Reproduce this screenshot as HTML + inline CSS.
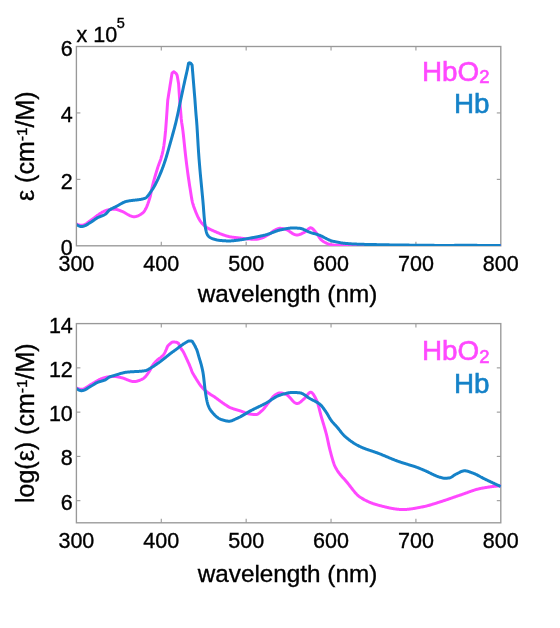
<!DOCTYPE html>
<html><head><meta charset="utf-8"><style>
html,body{margin:0;padding:0;background:#fff;width:560px;height:628px;overflow:hidden}
svg{display:block;will-change:transform}
text{font-family:"Liberation Sans",sans-serif;stroke-width:0.35px}
</style></head><body>
<svg width="560" height="628" viewBox="0 0 560 628">
<rect width="560" height="628" fill="#fff"/>
<rect x="76.4" y="46.5" width="424.40" height="199.30" fill="none" stroke="#999999" stroke-width="1.35"/>
<line x1="161.28" y1="245.80" x2="161.28" y2="241.80" stroke="#999999" stroke-width="1.1"/>
<line x1="161.28" y1="46.50" x2="161.28" y2="50.50" stroke="#999999" stroke-width="1.1"/>
<line x1="246.16" y1="245.80" x2="246.16" y2="241.80" stroke="#999999" stroke-width="1.1"/>
<line x1="246.16" y1="46.50" x2="246.16" y2="50.50" stroke="#999999" stroke-width="1.1"/>
<line x1="331.04" y1="245.80" x2="331.04" y2="241.80" stroke="#999999" stroke-width="1.1"/>
<line x1="331.04" y1="46.50" x2="331.04" y2="50.50" stroke="#999999" stroke-width="1.1"/>
<line x1="415.92" y1="245.80" x2="415.92" y2="241.80" stroke="#999999" stroke-width="1.1"/>
<line x1="415.92" y1="46.50" x2="415.92" y2="50.50" stroke="#999999" stroke-width="1.1"/>
<line x1="76.40" y1="179.37" x2="80.40" y2="179.37" stroke="#999999" stroke-width="1.1"/>
<line x1="500.80" y1="179.37" x2="496.80" y2="179.37" stroke="#999999" stroke-width="1.1"/>
<line x1="76.40" y1="112.93" x2="80.40" y2="112.93" stroke="#999999" stroke-width="1.1"/>
<line x1="500.80" y1="112.93" x2="496.80" y2="112.93" stroke="#999999" stroke-width="1.1"/>
<clipPath id="c1"><rect x="76.90" y="46.50" width="424.40" height="199.60"/></clipPath>
<g clip-path="url(#c1)">
<path d="M76.40,223.82 L76.82,224.05 L77.25,224.27 L77.67,224.46 L78.10,224.64 L78.52,224.79 L78.95,224.93 L79.37,225.04 L79.80,225.14 L80.22,225.21 L80.64,225.26 L81.07,225.30 L81.49,225.31 L81.92,225.29 L82.34,225.24 L82.77,225.17 L83.19,225.06 L83.61,224.93 L84.04,224.78 L84.46,224.60 L84.89,224.40 L85.31,224.18 L85.74,223.94 L86.16,223.68 L86.59,223.41 L87.01,223.13 L87.43,222.83 L87.86,222.52 L88.28,222.21 L88.71,221.88 L89.13,221.56 L89.56,221.23 L89.98,220.90 L90.41,220.58 L90.83,220.26 L91.25,219.95 L91.68,219.66 L92.10,219.37 L92.53,219.08 L92.95,218.78 L93.38,218.47 L93.80,218.15 L94.22,217.83 L94.65,217.51 L95.07,217.18 L95.50,216.85 L95.92,216.53 L96.35,216.21 L96.77,215.89 L97.20,215.59 L97.62,215.29 L98.04,214.99 L98.47,214.69 L98.89,214.38 L99.32,214.08 L99.74,213.78 L100.17,213.49 L100.59,213.21 L101.02,212.93 L101.44,212.67 L101.86,212.42 L102.29,212.18 L102.71,211.97 L103.14,211.76 L103.56,211.55 L103.99,211.35 L104.41,211.15 L104.83,210.96 L105.26,210.78 L105.68,210.60 L106.11,210.44 L106.53,210.29 L106.96,210.16 L107.38,210.05 L107.81,209.95 L108.23,209.88 L108.65,209.80 L109.08,209.73 L109.50,209.66 L109.93,209.59 L110.35,209.53 L110.78,209.47 L111.20,209.42 L111.63,209.37 L112.05,209.32 L112.47,209.28 L112.90,209.25 L113.32,209.23 L113.75,209.21 L114.17,209.20 L114.60,209.20 L115.02,209.22 L115.44,209.26 L115.87,209.33 L116.29,209.41 L116.72,209.51 L117.14,209.63 L117.57,209.75 L117.99,209.89 L118.42,210.04 L118.84,210.19 L119.26,210.35 L119.69,210.51 L120.11,210.67 L120.54,210.83 L120.96,210.99 L121.39,211.15 L121.81,211.30 L122.24,211.45 L122.66,211.62 L123.08,211.81 L123.51,212.02 L123.93,212.24 L124.36,212.47 L124.78,212.71 L125.21,212.95 L125.63,213.20 L126.05,213.46 L126.48,213.71 L126.90,213.97 L127.33,214.22 L127.75,214.47 L128.18,214.71 L128.60,214.95 L129.03,215.18 L129.45,215.40 L129.87,215.60 L130.30,215.79 L130.72,215.97 L131.15,216.14 L131.57,216.28 L132.00,216.41 L132.42,216.52 L132.85,216.60 L133.27,216.67 L133.69,216.70 L134.12,216.72 L134.54,216.71 L134.97,216.67 L135.39,216.61 L135.82,216.53 L136.24,216.43 L136.66,216.31 L137.09,216.17 L137.51,216.02 L137.94,215.84 L138.36,215.65 L138.79,215.44 L139.21,215.22 L139.64,214.99 L140.06,214.74 L140.48,214.48 L140.91,214.20 L141.33,213.92 L141.76,213.62 L142.18,213.32 L142.61,213.01 L143.03,212.66 L143.46,212.24 L143.88,211.74 L144.30,211.18 L144.73,210.55 L145.15,209.85 L145.58,209.08 L146.00,208.25 L146.43,207.35 L146.85,206.39 L147.27,205.36 L147.70,204.27 L148.12,203.11 L148.55,201.90 L148.97,200.63 L149.40,199.30 L149.82,197.92 L150.25,196.35 L150.67,194.39 L151.09,192.20 L151.52,190.00 L151.94,188.02 L152.37,186.34 L152.79,184.69 L153.22,183.08 L153.64,181.50 L154.07,179.95 L154.49,178.43 L154.91,176.94 L155.34,175.48 L155.76,174.04 L156.19,172.63 L156.61,171.23 L157.04,169.86 L157.46,168.49 L157.88,167.14 L158.31,165.87 L158.73,164.68 L159.16,163.55 L159.58,162.44 L160.01,161.31 L160.43,160.13 L160.86,158.86 L161.28,157.44 L161.70,155.92 L162.13,154.31 L162.55,152.56 L162.98,150.62 L163.40,148.44 L163.83,145.91 L164.25,142.89 L164.68,139.40 L165.10,135.46 L165.52,130.93 L165.61,130.21 L165.95,125.78 L166.37,120.24 L166.37,120.24 L166.80,114.01 L167.22,107.78 L167.65,101.56 L167.73,100.31 L168.07,98.17 L168.49,95.50 L168.92,92.83 L169.34,90.16 L169.77,87.49 L170.19,84.82 L170.62,82.15 L171.04,79.48 L171.47,76.81 L171.89,74.14 L172.06,73.07 L172.31,72.88 L172.74,72.57 L173.16,72.25 L173.59,71.93 L173.84,71.74 L174.01,71.87 L174.44,72.19 L174.86,72.51 L175.29,72.83 L175.71,73.15 L176.05,73.41 L176.13,73.56 L176.56,74.33 L176.98,75.09 L177.15,75.40 L177.41,76.86 L177.83,79.31 L178.26,81.75 L178.60,83.70 L178.68,84.98 L179.10,91.37 L179.53,97.76 L179.70,100.31 L179.95,103.30 L180.38,108.28 L180.80,113.27 L181.23,118.71 L181.65,122.25 L182.08,125.06 L182.50,127.75 L182.92,130.89 L183.35,134.55 L183.77,138.50 L184.20,142.60 L184.62,146.74 L185.05,150.78 L185.47,154.64 L185.90,158.27 L186.32,161.77 L186.74,165.15 L187.17,168.42 L187.59,171.59 L188.02,174.67 L188.44,177.67 L188.87,180.58 L189.29,183.41 L189.71,186.17 L190.14,188.86 L190.56,191.47 L190.99,194.14 L191.41,196.89 L191.84,199.38 L192.26,201.36 L192.69,203.05 L193.11,204.55 L193.53,205.90 L193.96,207.16 L194.38,208.34 L194.81,209.48 L195.23,210.59 L195.66,211.68 L196.08,212.73 L196.51,213.74 L196.93,214.72 L197.35,215.66 L197.78,216.56 L198.20,217.42 L198.63,218.24 L199.05,219.02 L199.48,219.76 L199.90,220.47 L200.32,221.13 L200.75,221.75 L201.17,222.33 L201.60,222.87 L202.02,223.38 L202.45,223.85 L202.87,224.29 L203.30,224.71 L203.72,225.10 L204.14,225.48 L204.57,225.83 L204.99,226.17 L205.42,226.49 L205.84,226.80 L206.27,227.10 L206.69,227.38 L207.12,227.66 L207.54,227.92 L207.96,228.17 L208.39,228.41 L208.81,228.65 L209.24,228.87 L209.66,229.08 L210.09,229.29 L210.51,229.50 L210.93,229.70 L211.36,229.89 L211.78,230.08 L212.21,230.27 L212.63,230.46 L213.06,230.64 L213.48,230.83 L213.91,231.01 L214.33,231.20 L214.75,231.38 L215.18,231.57 L215.60,231.76 L216.03,231.95 L216.45,232.13 L216.88,232.32 L217.30,232.51 L217.73,232.69 L218.15,232.88 L218.57,233.06 L219.00,233.24 L219.42,233.42 L219.85,233.59 L220.27,233.77 L220.70,233.94 L221.12,234.10 L221.54,234.27 L221.97,234.43 L222.39,234.58 L222.82,234.74 L223.24,234.89 L223.67,235.03 L224.09,235.17 L224.52,235.31 L224.94,235.44 L225.36,235.57 L225.79,235.70 L226.21,235.83 L226.64,235.95 L227.06,236.08 L227.49,236.20 L227.91,236.31 L228.34,236.42 L228.76,236.53 L229.18,236.62 L229.61,236.71 L230.03,236.79 L230.46,236.86 L230.88,236.93 L231.31,237.00 L231.73,237.07 L232.15,237.13 L232.58,237.19 L233.00,237.25 L233.43,237.30 L233.85,237.36 L234.28,237.41 L234.70,237.46 L235.13,237.51 L235.55,237.56 L235.97,237.60 L236.40,237.65 L236.82,237.70 L237.25,237.74 L237.67,237.79 L238.10,237.83 L238.52,237.88 L238.95,237.92 L239.37,237.97 L239.79,238.01 L240.22,238.06 L240.64,238.11 L241.07,238.16 L241.49,238.21 L241.92,238.26 L242.34,238.31 L242.76,238.37 L243.19,238.42 L243.61,238.47 L244.04,238.53 L244.46,238.58 L244.89,238.63 L245.31,238.68 L245.74,238.73 L246.16,238.78 L246.58,238.83 L247.01,238.87 L247.43,238.91 L247.86,238.95 L248.28,238.99 L248.71,239.02 L249.13,239.05 L249.56,239.07 L249.98,239.10 L250.40,239.11 L250.83,239.13 L251.25,239.14 L251.68,239.16 L252.10,239.17 L252.53,239.19 L252.95,239.20 L253.37,239.21 L253.80,239.22 L254.22,239.23 L254.65,239.24 L255.07,239.24 L255.50,239.24 L255.92,239.25 L256.35,239.24 L256.77,239.21 L257.19,239.17 L257.62,239.11 L258.04,239.03 L258.47,238.95 L258.89,238.85 L259.32,238.74 L259.74,238.63 L260.17,238.51 L260.59,238.38 L261.01,238.25 L261.44,238.11 L261.86,237.98 L262.29,237.85 L262.71,237.70 L263.14,237.55 L263.56,237.37 L263.98,237.18 L264.41,236.98 L264.83,236.77 L265.26,236.54 L265.68,236.30 L266.11,236.06 L266.53,235.80 L266.96,235.55 L267.38,235.28 L267.80,235.02 L268.23,234.76 L268.65,234.50 L269.08,234.23 L269.50,233.94 L269.93,233.64 L270.35,233.32 L270.78,233.00 L271.20,232.67 L271.62,232.33 L272.05,231.99 L272.47,231.66 L272.90,231.33 L273.32,231.02 L273.75,230.72 L274.17,230.45 L274.59,230.21 L275.02,230.00 L275.44,229.81 L275.87,229.61 L276.29,229.42 L276.72,229.23 L277.14,229.04 L277.57,228.87 L277.99,228.72 L278.41,228.59 L278.84,228.48 L279.26,228.40 L279.69,228.35 L280.11,228.34 L280.54,228.35 L280.96,228.38 L281.39,228.42 L281.81,228.48 L282.23,228.54 L282.66,228.62 L283.08,228.71 L283.51,228.80 L283.93,228.90 L284.36,229.01 L284.78,229.11 L285.20,229.22 L285.63,229.33 L286.05,229.45 L286.48,229.61 L286.90,229.80 L287.33,230.02 L287.75,230.26 L288.18,230.52 L288.60,230.80 L289.02,231.09 L289.45,231.39 L289.87,231.69 L290.30,231.99 L290.72,232.29 L291.15,232.59 L291.57,232.87 L292.00,233.15 L292.42,233.41 L292.84,233.66 L293.27,233.89 L293.69,234.11 L294.12,234.30 L294.54,234.47 L294.97,234.63 L295.39,234.75 L295.81,234.86 L296.24,234.93 L296.66,234.98 L297.09,234.99 L297.51,234.98 L297.94,234.94 L298.36,234.87 L298.79,234.78 L299.21,234.67 L299.63,234.54 L300.06,234.39 L300.48,234.22 L300.91,234.04 L301.33,233.84 L301.76,233.64 L302.18,233.43 L302.61,233.21 L303.03,232.99 L303.45,232.77 L303.88,232.55 L304.30,232.33 L304.73,232.10 L305.15,231.82 L305.58,231.50 L306.00,231.15 L306.42,230.77 L306.85,230.38 L307.27,229.97 L307.70,229.57 L308.12,229.18 L308.55,228.82 L308.97,228.49 L309.40,228.21 L309.82,227.99 L310.24,227.85 L310.67,227.80 L311.09,227.86 L311.52,228.00 L311.94,228.24 L312.37,228.54 L312.79,228.91 L313.22,229.33 L313.64,229.80 L314.06,230.28 L314.49,230.79 L314.91,231.31 L315.34,231.82 L315.76,232.33 L316.19,232.83 L316.61,233.32 L317.03,233.87 L317.46,234.50 L317.88,235.16 L318.31,235.84 L318.73,236.51 L319.16,237.17 L319.58,237.79 L320.01,238.37 L320.43,238.91 L320.85,239.40 L321.28,239.83 L321.70,240.21 L322.13,240.56 L322.55,240.89 L322.98,241.19 L323.40,241.47 L323.83,241.74 L324.25,241.99 L324.67,242.23 L325.10,242.46 L325.52,242.68 L325.95,242.89 L326.37,243.10 L326.80,243.30 L327.22,243.50 L327.64,243.69 L328.07,243.87 L328.49,244.03 L328.92,244.18 L329.34,244.32 L329.77,244.43 L330.19,244.53 L330.62,244.62 L331.04,244.70 L331.46,244.77 L331.89,244.84 L332.31,244.90 L332.74,244.96 L333.16,245.01 L333.59,245.06 L334.01,245.10 L334.44,245.13 L334.86,245.16 L335.28,245.19 L335.71,245.21 L336.13,245.23 L336.56,245.25 L336.98,245.26 L337.41,245.28 L337.83,245.30 L338.25,245.31 L338.68,245.32 L339.10,245.34 L339.53,245.35 L339.95,245.36 L340.38,245.37 L340.80,245.38 L341.23,245.39 L341.65,245.40 L342.07,245.40 L342.50,245.41 L342.92,245.42 L343.35,245.43 L343.77,245.44 L344.20,245.44 L344.62,245.45 L345.05,245.46 L345.47,245.47 L345.89,245.47 L346.32,245.48 L346.74,245.49 L347.17,245.50 L347.59,245.50 L348.02,245.51 L348.44,245.52 L348.86,245.52 L349.29,245.53 L349.71,245.54 L350.14,245.54 L350.56,245.55 L350.99,245.56 L351.41,245.56 L351.84,245.57 L352.26,245.57 L352.68,245.58 L353.11,245.58 L353.53,245.59 L353.96,245.59 L354.38,245.60 L354.81,245.60 L355.23,245.61 L355.66,245.61 L356.08,245.62 L356.50,245.62 L356.93,245.62 L357.35,245.63 L357.78,245.63 L358.20,245.63 L358.63,245.63 L359.05,245.64 L359.47,245.64 L359.90,245.64 L360.32,245.64 L360.75,245.65 L361.17,245.65 L361.60,245.65 L362.02,245.65 L362.45,245.65 L362.87,245.65 L363.29,245.66 L363.72,245.66 L364.14,245.66 L364.57,245.66 L364.99,245.66 L365.42,245.66 L365.84,245.66 L366.27,245.67 L366.69,245.67 L367.11,245.67 L367.54,245.67 L367.96,245.67 L368.39,245.67 L368.81,245.67 L369.24,245.67 L369.66,245.68 L370.08,245.68 L370.51,245.68 L370.93,245.68 L371.36,245.68 L371.78,245.68 L372.21,245.68 L372.63,245.68 L373.06,245.68 L373.48,245.68 L373.90,245.68 L374.33,245.68 L374.75,245.69 L375.18,245.69 L375.60,245.69 L376.03,245.69 L376.45,245.69 L376.88,245.69 L377.30,245.69 L377.72,245.69 L378.15,245.69 L378.57,245.69 L379.00,245.69 L379.42,245.69 L379.85,245.69 L380.27,245.69 L380.69,245.69 L381.12,245.69 L381.54,245.69 L381.97,245.70 L382.39,245.70 L382.82,245.70 L383.24,245.70 L383.67,245.70 L384.09,245.70 L384.51,245.70 L384.94,245.70 L385.36,245.70 L385.79,245.70 L386.21,245.70 L386.64,245.70 L387.06,245.70 L387.49,245.70 L387.91,245.70 L388.33,245.70 L388.76,245.70 L389.18,245.70 L389.61,245.70 L390.03,245.70 L390.46,245.70 L390.88,245.70 L391.30,245.71 L391.73,245.71 L392.15,245.71 L392.58,245.71 L393.00,245.71 L393.43,245.71 L393.85,245.71 L394.28,245.71 L394.70,245.71 L395.12,245.71 L395.55,245.71 L395.97,245.71 L396.40,245.71 L396.82,245.71 L397.25,245.71 L397.67,245.71 L398.10,245.71 L398.52,245.71 L398.94,245.71 L399.37,245.71 L399.79,245.71 L400.22,245.71 L400.64,245.71 L401.07,245.71 L401.49,245.71 L401.91,245.71 L402.34,245.71 L402.76,245.71 L403.19,245.71 L403.61,245.71 L404.04,245.71 L404.46,245.71 L404.89,245.71 L405.31,245.71 L405.73,245.71 L406.16,245.71 L406.58,245.71 L407.01,245.71 L407.43,245.71 L407.86,245.71 L408.28,245.71 L408.71,245.71 L409.13,245.71 L409.55,245.71 L409.98,245.71 L410.40,245.71 L410.83,245.71 L411.25,245.71 L411.68,245.71 L412.10,245.71 L412.52,245.71 L412.95,245.71 L413.37,245.71 L413.80,245.71 L414.22,245.71 L414.65,245.71 L415.07,245.70 L415.50,245.70 L415.92,245.70 L416.34,245.70 L416.77,245.70 L417.19,245.70 L417.62,245.70 L418.04,245.70 L418.47,245.70 L418.89,245.70 L419.32,245.70 L419.74,245.70 L420.16,245.70 L420.59,245.70 L421.01,245.70 L421.44,245.70 L421.86,245.70 L422.29,245.70 L422.71,245.70 L423.13,245.70 L423.56,245.70 L423.98,245.70 L424.41,245.70 L424.83,245.70 L425.26,245.70 L425.68,245.70 L426.11,245.70 L426.53,245.69 L426.95,245.69 L427.38,245.69 L427.80,245.69 L428.23,245.69 L428.65,245.69 L429.08,245.69 L429.50,245.69 L429.93,245.69 L430.35,245.69 L430.77,245.69 L431.20,245.69 L431.62,245.69 L432.05,245.69 L432.47,245.69 L432.90,245.69 L433.32,245.68 L433.74,245.68 L434.17,245.68 L434.59,245.68 L435.02,245.68 L435.44,245.68 L435.87,245.68 L436.29,245.68 L436.72,245.68 L437.14,245.68 L437.56,245.68 L437.99,245.68 L438.41,245.68 L438.84,245.68 L439.26,245.67 L439.69,245.67 L440.11,245.67 L440.54,245.67 L440.96,245.67 L441.38,245.67 L441.81,245.67 L442.23,245.67 L442.66,245.67 L443.08,245.67 L443.51,245.67 L443.93,245.67 L444.35,245.67 L444.78,245.66 L445.20,245.66 L445.63,245.66 L446.05,245.66 L446.48,245.66 L446.90,245.66 L447.33,245.66 L447.75,245.66 L448.17,245.66 L448.60,245.66 L449.02,245.66 L449.45,245.65 L449.87,245.65 L450.30,245.65 L450.72,245.65 L451.15,245.65 L451.57,245.65 L451.99,245.65 L452.42,245.65 L452.84,245.65 L453.27,245.65 L453.69,245.64 L454.12,245.64 L454.54,245.64 L454.96,245.64 L455.39,245.64 L455.81,245.64 L456.24,245.64 L456.66,245.64 L457.09,245.64 L457.51,245.63 L457.94,245.63 L458.36,245.63 L458.78,245.63 L459.21,245.63 L459.63,245.63 L460.06,245.63 L460.48,245.63 L460.91,245.63 L461.33,245.62 L461.76,245.62 L462.18,245.62 L462.60,245.62 L463.03,245.62 L463.45,245.62 L463.88,245.62 L464.30,245.62 L464.73,245.61 L465.15,245.61 L465.57,245.61 L466.00,245.61 L466.42,245.61 L466.85,245.61 L467.27,245.61 L467.70,245.61 L468.12,245.60 L468.55,245.60 L468.97,245.60 L469.39,245.60 L469.82,245.60 L470.24,245.60 L470.67,245.60 L471.09,245.59 L471.52,245.59 L471.94,245.59 L472.37,245.59 L472.79,245.59 L473.21,245.59 L473.64,245.59 L474.06,245.58 L474.49,245.58 L474.91,245.58 L475.34,245.58 L475.76,245.58 L476.18,245.58 L476.61,245.58 L477.03,245.58 L477.46,245.57 L477.88,245.57 L478.31,245.57 L478.73,245.57 L479.16,245.57 L479.58,245.57 L480.00,245.57 L480.43,245.57 L480.85,245.57 L481.28,245.57 L481.70,245.57 L482.13,245.56 L482.55,245.56 L482.98,245.56 L483.40,245.56 L483.82,245.56 L484.25,245.56 L484.67,245.56 L485.10,245.56 L485.52,245.56 L485.95,245.56 L486.37,245.56 L486.79,245.56 L487.22,245.55 L487.64,245.55 L488.07,245.55 L488.49,245.55 L488.92,245.55 L489.34,245.55 L489.77,245.55 L490.19,245.55 L490.61,245.55 L491.04,245.55 L491.46,245.55 L491.89,245.55 L492.31,245.55 L492.74,245.55 L493.16,245.55 L493.59,245.54 L494.01,245.54 L494.43,245.54 L494.86,245.54 L495.28,245.54 L495.71,245.54 L496.13,245.54 L496.56,245.54 L496.98,245.54 L497.40,245.54 L497.83,245.54 L498.25,245.54 L498.68,245.54 L499.10,245.54 L499.53,245.54 L499.95,245.54 L500.38,245.54 L500.80,245.54" fill="none" stroke="#ff48ff" stroke-width="3.0" stroke-linejoin="round" stroke-linecap="butt"/>
<path d="M76.40,224.47 L76.82,224.76 L77.25,225.04 L77.67,225.30 L78.10,225.53 L78.52,225.75 L78.95,225.94 L79.37,226.10 L79.80,226.24 L80.22,226.35 L80.64,226.43 L81.07,226.48 L81.49,226.50 L81.92,226.49 L82.34,226.45 L82.77,226.38 L83.19,226.29 L83.61,226.18 L84.04,226.05 L84.46,225.90 L84.89,225.73 L85.31,225.54 L85.74,225.34 L86.16,225.12 L86.59,224.89 L87.01,224.65 L87.43,224.39 L87.86,224.13 L88.28,223.86 L88.71,223.59 L89.13,223.31 L89.56,223.03 L89.98,222.75 L90.41,222.47 L90.83,222.19 L91.25,221.92 L91.68,221.66 L92.10,221.41 L92.53,221.14 L92.95,220.86 L93.38,220.56 L93.80,220.26 L94.22,219.95 L94.65,219.63 L95.07,219.32 L95.50,219.01 L95.92,218.71 L96.35,218.42 L96.77,218.15 L97.20,217.90 L97.62,217.68 L98.04,217.47 L98.47,217.27 L98.89,217.08 L99.32,216.91 L99.74,216.74 L100.17,216.58 L100.59,216.42 L101.02,216.26 L101.44,216.10 L101.86,215.94 L102.29,215.78 L102.71,215.61 L103.14,215.43 L103.56,215.23 L103.99,215.03 L104.41,214.80 L104.83,214.56 L105.26,214.30 L105.68,213.98 L106.11,213.60 L106.53,213.17 L106.96,212.70 L107.38,212.21 L107.81,211.71 L108.23,211.22 L108.65,210.75 L109.08,210.34 L109.50,209.98 L109.93,209.69 L110.35,209.42 L110.78,209.16 L111.20,208.92 L111.63,208.69 L112.05,208.47 L112.47,208.26 L112.90,208.06 L113.32,207.86 L113.75,207.66 L114.17,207.47 L114.60,207.27 L115.02,207.06 L115.44,206.85 L115.87,206.63 L116.29,206.40 L116.72,206.17 L117.14,205.93 L117.57,205.68 L117.99,205.44 L118.42,205.19 L118.84,204.94 L119.26,204.70 L119.69,204.46 L120.11,204.22 L120.54,203.98 L120.96,203.75 L121.39,203.53 L121.81,203.32 L122.24,203.11 L122.66,202.90 L123.08,202.68 L123.51,202.48 L123.93,202.28 L124.36,202.09 L124.78,201.91 L125.21,201.75 L125.63,201.61 L126.05,201.49 L126.48,201.39 L126.90,201.29 L127.33,201.19 L127.75,201.10 L128.18,201.02 L128.60,200.94 L129.03,200.86 L129.45,200.79 L129.87,200.73 L130.30,200.67 L130.72,200.61 L131.15,200.55 L131.57,200.50 L132.00,200.45 L132.42,200.40 L132.85,200.35 L133.27,200.31 L133.69,200.26 L134.12,200.22 L134.54,200.18 L134.97,200.13 L135.39,200.09 L135.82,200.05 L136.24,200.00 L136.66,199.96 L137.09,199.91 L137.51,199.86 L137.94,199.81 L138.36,199.75 L138.79,199.70 L139.21,199.64 L139.64,199.57 L140.06,199.50 L140.48,199.43 L140.91,199.35 L141.33,199.27 L141.76,199.18 L142.18,199.09 L142.61,198.99 L143.03,198.88 L143.46,198.77 L143.88,198.65 L144.30,198.52 L144.73,198.39 L145.15,198.23 L145.58,198.01 L146.00,197.73 L146.43,197.39 L146.85,196.99 L147.27,196.55 L147.70,196.07 L148.12,195.55 L148.55,194.99 L148.97,194.41 L149.40,193.82 L149.82,193.20 L150.25,192.58 L150.67,191.96 L151.09,191.35 L151.52,190.75 L151.94,190.14 L152.37,189.50 L152.79,188.84 L153.22,188.16 L153.64,187.46 L154.07,186.74 L154.49,186.00 L154.91,185.23 L155.34,184.44 L155.76,183.64 L156.19,182.81 L156.61,181.96 L157.04,181.09 L157.46,180.20 L157.88,179.30 L158.31,178.37 L158.73,177.42 L159.16,176.45 L159.58,175.47 L160.01,174.46 L160.43,173.44 L160.86,172.40 L161.28,171.34 L161.70,170.27 L162.13,169.18 L162.55,168.08 L162.98,166.96 L163.40,165.80 L163.83,164.61 L164.25,163.37 L164.68,162.10 L165.10,160.80 L165.52,159.47 L165.95,158.10 L166.37,156.71 L166.80,155.29 L167.22,153.84 L167.65,152.38 L168.07,150.90 L168.49,149.40 L168.92,147.90 L169.34,146.38 L169.77,144.87 L170.19,143.35 L170.62,141.83 L171.04,140.32 L171.47,138.82 L171.89,137.31 L172.31,135.79 L172.74,134.27 L173.16,132.74 L173.59,131.19 L174.01,129.62 L174.44,128.03 L174.86,126.40 L175.29,124.75 L175.71,123.05 L176.13,121.31 L176.56,119.52 L176.98,117.66 L177.41,115.74 L177.83,113.77 L178.26,111.76 L178.68,109.72 L179.10,107.66 L179.53,105.60 L179.95,103.55 L180.38,101.51 L180.80,99.51 L181.23,97.52 L181.65,95.51 L182.08,93.51 L182.50,91.51 L182.92,89.51 L183.35,87.52 L183.77,85.53 L184.20,83.62 L184.62,81.64 L184.96,80.05 L185.05,79.68 L185.47,77.82 L185.90,75.96 L186.32,74.10 L186.74,72.24 L187.08,70.75 L187.17,70.32 L187.59,68.17 L188.02,66.02 L188.44,63.87 L188.53,63.44 L188.87,63.11 L189.21,62.78 L189.29,62.80 L189.71,62.89 L190.14,62.99 L190.56,63.09 L190.65,63.11 L190.99,63.58 L191.41,64.16 L191.84,64.75 L192.09,65.10 L192.26,67.17 L192.69,72.34 L192.86,74.40 L193.11,77.51 L193.53,82.69 L193.96,87.87 L194.38,93.06 L194.81,98.24 L194.98,100.31 L195.23,103.85 L195.66,109.76 L195.74,110.94 L196.08,115.03 L196.51,119.90 L196.93,125.43 L197.35,132.11 L197.78,139.34 L198.20,146.48 L198.63,153.05 L199.05,158.89 L199.48,164.19 L199.90,169.12 L200.32,173.79 L200.75,178.31 L201.17,182.75 L201.60,187.18 L202.02,191.63 L202.45,196.11 L202.87,200.63 L203.30,205.71 L203.72,211.29 L204.14,216.63 L204.57,221.28 L204.99,225.05 L205.42,227.91 L205.84,229.93 L206.27,231.58 L206.69,232.98 L207.12,234.11 L207.54,234.99 L207.96,235.61 L208.39,236.10 L208.81,236.53 L209.24,236.91 L209.66,237.23 L210.09,237.52 L210.51,237.77 L210.93,238.00 L211.36,238.20 L211.78,238.38 L212.21,238.55 L212.63,238.71 L213.06,238.86 L213.48,239.00 L213.91,239.14 L214.33,239.27 L214.75,239.40 L215.18,239.52 L215.60,239.63 L216.03,239.74 L216.45,239.84 L216.88,239.93 L217.30,240.02 L217.73,240.10 L218.15,240.17 L218.57,240.24 L219.00,240.31 L219.42,240.37 L219.85,240.42 L220.27,240.47 L220.70,240.51 L221.12,240.55 L221.54,240.58 L221.97,240.61 L222.39,240.65 L222.82,240.68 L223.24,240.71 L223.67,240.74 L224.09,240.77 L224.52,240.79 L224.94,240.82 L225.36,240.84 L225.79,240.86 L226.21,240.88 L226.64,240.90 L227.06,240.91 L227.49,240.92 L227.91,240.93 L228.34,240.94 L228.76,240.94 L229.18,240.94 L229.61,240.94 L230.03,240.93 L230.46,240.91 L230.88,240.89 L231.31,240.87 L231.73,240.84 L232.15,240.80 L232.58,240.77 L233.00,240.73 L233.43,240.68 L233.85,240.64 L234.28,240.59 L234.70,240.54 L235.13,240.49 L235.55,240.44 L235.97,240.39 L236.40,240.35 L236.82,240.30 L237.25,240.25 L237.67,240.20 L238.10,240.16 L238.52,240.10 L238.95,240.05 L239.37,239.99 L239.79,239.94 L240.22,239.88 L240.64,239.82 L241.07,239.75 L241.49,239.69 L241.92,239.62 L242.34,239.55 L242.76,239.49 L243.19,239.41 L243.61,239.34 L244.04,239.27 L244.46,239.19 L244.89,239.12 L245.31,239.04 L245.74,238.96 L246.16,238.88 L246.58,238.80 L247.01,238.72 L247.43,238.64 L247.86,238.56 L248.28,238.48 L248.71,238.40 L249.13,238.31 L249.56,238.23 L249.98,238.15 L250.40,238.07 L250.83,237.99 L251.25,237.91 L251.68,237.83 L252.10,237.75 L252.53,237.67 L252.95,237.59 L253.37,237.51 L253.80,237.43 L254.22,237.35 L254.65,237.27 L255.07,237.19 L255.50,237.10 L255.92,237.02 L256.35,236.94 L256.77,236.86 L257.19,236.77 L257.62,236.69 L258.04,236.61 L258.47,236.52 L258.89,236.44 L259.32,236.35 L259.74,236.26 L260.17,236.17 L260.59,236.08 L261.01,235.99 L261.44,235.90 L261.86,235.80 L262.29,235.71 L262.71,235.61 L263.14,235.51 L263.56,235.41 L263.98,235.31 L264.41,235.21 L264.83,235.10 L265.26,235.00 L265.68,234.89 L266.11,234.77 L266.53,234.65 L266.96,234.53 L267.38,234.40 L267.80,234.27 L268.23,234.13 L268.65,233.99 L269.08,233.84 L269.50,233.69 L269.93,233.54 L270.35,233.38 L270.78,233.22 L271.20,233.06 L271.62,232.90 L272.05,232.73 L272.47,232.57 L272.90,232.40 L273.32,232.24 L273.75,232.07 L274.17,231.90 L274.59,231.74 L275.02,231.58 L275.44,231.42 L275.87,231.26 L276.29,231.11 L276.72,230.96 L277.14,230.81 L277.57,230.67 L277.99,230.54 L278.41,230.41 L278.84,230.29 L279.26,230.18 L279.69,230.07 L280.11,229.98 L280.54,229.89 L280.96,229.80 L281.39,229.70 L281.81,229.61 L282.23,229.52 L282.66,229.43 L283.08,229.33 L283.51,229.24 L283.93,229.15 L284.36,229.06 L284.78,228.98 L285.20,228.89 L285.63,228.81 L286.05,228.73 L286.48,228.65 L286.90,228.57 L287.33,228.50 L287.75,228.43 L288.18,228.37 L288.60,228.31 L289.02,228.25 L289.45,228.20 L289.87,228.15 L290.30,228.11 L290.72,228.07 L291.15,228.04 L291.57,228.02 L292.00,228.00 L292.42,227.99 L292.84,227.98 L293.27,227.98 L293.69,227.99 L294.12,228.00 L294.54,228.01 L294.97,228.02 L295.39,228.03 L295.81,228.05 L296.24,228.07 L296.66,228.10 L297.09,228.12 L297.51,228.15 L297.94,228.18 L298.36,228.21 L298.79,228.24 L299.21,228.27 L299.63,228.31 L300.06,228.34 L300.48,228.40 L300.91,228.48 L301.33,228.58 L301.76,228.70 L302.18,228.84 L302.61,228.99 L303.03,229.16 L303.45,229.34 L303.88,229.53 L304.30,229.73 L304.73,229.93 L305.15,230.14 L305.58,230.35 L306.00,230.56 L306.42,230.77 L306.85,230.98 L307.27,231.19 L307.70,231.39 L308.12,231.58 L308.55,231.77 L308.97,231.95 L309.40,232.12 L309.82,232.27 L310.24,232.42 L310.67,232.56 L311.09,232.70 L311.52,232.83 L311.94,232.96 L312.37,233.08 L312.79,233.20 L313.22,233.32 L313.64,233.44 L314.06,233.56 L314.49,233.67 L314.91,233.79 L315.34,233.91 L315.76,234.03 L316.19,234.15 L316.61,234.28 L317.03,234.41 L317.46,234.54 L317.88,234.67 L318.31,234.81 L318.73,234.96 L319.16,235.10 L319.58,235.26 L320.01,235.42 L320.43,235.59 L320.85,235.77 L321.28,235.97 L321.70,236.18 L322.13,236.40 L322.55,236.62 L322.98,236.85 L323.40,237.08 L323.83,237.31 L324.25,237.53 L324.67,237.75 L325.10,237.97 L325.52,238.18 L325.95,238.38 L326.37,238.60 L326.80,238.81 L327.22,239.03 L327.64,239.24 L328.07,239.46 L328.49,239.66 L328.92,239.86 L329.34,240.06 L329.77,240.24 L330.19,240.41 L330.62,240.57 L331.04,240.71 L331.46,240.85 L331.89,240.97 L332.31,241.08 L332.74,241.19 L333.16,241.29 L333.59,241.38 L334.01,241.48 L334.44,241.56 L334.86,241.65 L335.28,241.73 L335.71,241.82 L336.13,241.90 L336.56,241.98 L336.98,242.06 L337.41,242.14 L337.83,242.23 L338.25,242.31 L338.68,242.39 L339.10,242.48 L339.53,242.56 L339.95,242.64 L340.38,242.71 L340.80,242.79 L341.23,242.86 L341.65,242.93 L342.07,243.00 L342.50,243.06 L342.92,243.12 L343.35,243.17 L343.77,243.23 L344.20,243.27 L344.62,243.32 L345.05,243.36 L345.47,243.40 L345.89,243.44 L346.32,243.48 L346.74,243.52 L347.17,243.55 L347.59,243.59 L348.02,243.62 L348.44,243.65 L348.86,243.69 L349.29,243.72 L349.71,243.75 L350.14,243.78 L350.56,243.80 L350.99,243.83 L351.41,243.86 L351.84,243.88 L352.26,243.91 L352.68,243.93 L353.11,243.96 L353.53,243.98 L353.96,244.00 L354.38,244.02 L354.81,244.05 L355.23,244.07 L355.66,244.09 L356.08,244.10 L356.50,244.12 L356.93,244.14 L357.35,244.16 L357.78,244.18 L358.20,244.19 L358.63,244.21 L359.05,244.22 L359.47,244.24 L359.90,244.25 L360.32,244.27 L360.75,244.28 L361.17,244.29 L361.60,244.31 L362.02,244.32 L362.45,244.33 L362.87,244.34 L363.29,244.35 L363.72,244.36 L364.14,244.37 L364.57,244.39 L364.99,244.40 L365.42,244.41 L365.84,244.42 L366.27,244.43 L366.69,244.43 L367.11,244.44 L367.54,244.45 L367.96,244.46 L368.39,244.47 L368.81,244.48 L369.24,244.49 L369.66,244.50 L370.08,244.50 L370.51,244.51 L370.93,244.52 L371.36,244.53 L371.78,244.54 L372.21,244.55 L372.63,244.55 L373.06,244.56 L373.48,244.57 L373.90,244.58 L374.33,244.59 L374.75,244.59 L375.18,244.60 L375.60,244.61 L376.03,244.62 L376.45,244.62 L376.88,244.63 L377.30,244.64 L377.72,244.65 L378.15,244.66 L378.57,244.67 L379.00,244.67 L379.42,244.68 L379.85,244.69 L380.27,244.70 L380.69,244.71 L381.12,244.72 L381.54,244.72 L381.97,244.73 L382.39,244.74 L382.82,244.75 L383.24,244.76 L383.67,244.77 L384.09,244.77 L384.51,244.78 L384.94,244.79 L385.36,244.80 L385.79,244.81 L386.21,244.81 L386.64,244.82 L387.06,244.83 L387.49,244.84 L387.91,244.85 L388.33,244.85 L388.76,244.86 L389.18,244.87 L389.61,244.88 L390.03,244.88 L390.46,244.89 L390.88,244.90 L391.30,244.91 L391.73,244.91 L392.15,244.92 L392.58,244.93 L393.00,244.93 L393.43,244.94 L393.85,244.95 L394.28,244.95 L394.70,244.96 L395.12,244.97 L395.55,244.97 L395.97,244.98 L396.40,244.98 L396.82,244.99 L397.25,245.00 L397.67,245.00 L398.10,245.01 L398.52,245.01 L398.94,245.02 L399.37,245.02 L399.79,245.03 L400.22,245.03 L400.64,245.04 L401.07,245.04 L401.49,245.05 L401.91,245.05 L402.34,245.06 L402.76,245.06 L403.19,245.07 L403.61,245.07 L404.04,245.07 L404.46,245.08 L404.89,245.08 L405.31,245.09 L405.73,245.09 L406.16,245.10 L406.58,245.10 L407.01,245.10 L407.43,245.11 L407.86,245.11 L408.28,245.12 L408.71,245.12 L409.13,245.12 L409.55,245.13 L409.98,245.13 L410.40,245.13 L410.83,245.14 L411.25,245.14 L411.68,245.15 L412.10,245.15 L412.52,245.15 L412.95,245.16 L413.37,245.16 L413.80,245.17 L414.22,245.17 L414.65,245.17 L415.07,245.18 L415.50,245.18 L415.92,245.19 L416.34,245.19 L416.77,245.19 L417.19,245.20 L417.62,245.20 L418.04,245.21 L418.47,245.21 L418.89,245.22 L419.32,245.22 L419.74,245.22 L420.16,245.23 L420.59,245.23 L421.01,245.24 L421.44,245.24 L421.86,245.25 L422.29,245.25 L422.71,245.26 L423.13,245.26 L423.56,245.26 L423.98,245.27 L424.41,245.27 L424.83,245.28 L425.26,245.28 L425.68,245.29 L426.11,245.29 L426.53,245.30 L426.95,245.30 L427.38,245.30 L427.80,245.31 L428.23,245.31 L428.65,245.32 L429.08,245.32 L429.50,245.33 L429.93,245.33 L430.35,245.34 L430.77,245.34 L431.20,245.35 L431.62,245.35 L432.05,245.35 L432.47,245.36 L432.90,245.36 L433.32,245.37 L433.74,245.37 L434.17,245.37 L434.59,245.38 L435.02,245.38 L435.44,245.38 L435.87,245.39 L436.29,245.39 L436.72,245.39 L437.14,245.40 L437.56,245.40 L437.99,245.40 L438.41,245.41 L438.84,245.41 L439.26,245.41 L439.69,245.41 L440.11,245.42 L440.54,245.42 L440.96,245.42 L441.38,245.42 L441.81,245.42 L442.23,245.42 L442.66,245.43 L443.08,245.43 L443.51,245.43 L443.93,245.43 L444.35,245.43 L444.78,245.43 L445.20,245.43 L445.63,245.43 L446.05,245.43 L446.48,245.43 L446.90,245.43 L447.33,245.43 L447.75,245.43 L448.17,245.43 L448.60,245.43 L449.02,245.43 L449.45,245.43 L449.87,245.42 L450.30,245.42 L450.72,245.42 L451.15,245.41 L451.57,245.41 L451.99,245.40 L452.42,245.40 L452.84,245.39 L453.27,245.39 L453.69,245.38 L454.12,245.38 L454.54,245.37 L454.96,245.37 L455.39,245.36 L455.81,245.36 L456.24,245.35 L456.66,245.35 L457.09,245.35 L457.51,245.34 L457.94,245.34 L458.36,245.33 L458.78,245.33 L459.21,245.32 L459.63,245.32 L460.06,245.31 L460.48,245.31 L460.91,245.30 L461.33,245.30 L461.76,245.30 L462.18,245.29 L462.60,245.29 L463.03,245.29 L463.45,245.29 L463.88,245.28 L464.30,245.28 L464.73,245.28 L465.15,245.28 L465.57,245.28 L466.00,245.29 L466.42,245.29 L466.85,245.29 L467.27,245.29 L467.70,245.29 L468.12,245.30 L468.55,245.30 L468.97,245.30 L469.39,245.31 L469.82,245.31 L470.24,245.31 L470.67,245.32 L471.09,245.32 L471.52,245.32 L471.94,245.33 L472.37,245.33 L472.79,245.33 L473.21,245.34 L473.64,245.34 L474.06,245.34 L474.49,245.35 L474.91,245.35 L475.34,245.36 L475.76,245.36 L476.18,245.36 L476.61,245.37 L477.03,245.37 L477.46,245.38 L477.88,245.38 L478.31,245.38 L478.73,245.39 L479.16,245.39 L479.58,245.40 L480.00,245.40 L480.43,245.41 L480.85,245.41 L481.28,245.41 L481.70,245.42 L482.13,245.42 L482.55,245.43 L482.98,245.43 L483.40,245.43 L483.82,245.44 L484.25,245.44 L484.67,245.44 L485.10,245.45 L485.52,245.45 L485.95,245.45 L486.37,245.46 L486.79,245.46 L487.22,245.46 L487.64,245.47 L488.07,245.47 L488.49,245.47 L488.92,245.47 L489.34,245.48 L489.77,245.48 L490.19,245.48 L490.61,245.49 L491.04,245.49 L491.46,245.49 L491.89,245.49 L492.31,245.50 L492.74,245.50 L493.16,245.50 L493.59,245.51 L494.01,245.51 L494.43,245.51 L494.86,245.51 L495.28,245.52 L495.71,245.52 L496.13,245.52 L496.56,245.52 L496.98,245.53 L497.40,245.53 L497.83,245.53 L498.25,245.53 L498.68,245.53 L499.10,245.54 L499.53,245.54 L499.95,245.54 L500.38,245.54 L500.80,245.55" fill="none" stroke="#1582c8" stroke-width="3.0" stroke-linejoin="round" stroke-linecap="butt"/>
</g>
<rect x="76.4" y="323.6" width="424.40" height="199.20" fill="none" stroke="#999999" stroke-width="1.35"/>
<line x1="161.28" y1="522.80" x2="161.28" y2="518.80" stroke="#999999" stroke-width="1.1"/>
<line x1="161.28" y1="323.60" x2="161.28" y2="327.60" stroke="#999999" stroke-width="1.1"/>
<line x1="246.16" y1="522.80" x2="246.16" y2="518.80" stroke="#999999" stroke-width="1.1"/>
<line x1="246.16" y1="323.60" x2="246.16" y2="327.60" stroke="#999999" stroke-width="1.1"/>
<line x1="331.04" y1="522.80" x2="331.04" y2="518.80" stroke="#999999" stroke-width="1.1"/>
<line x1="331.04" y1="323.60" x2="331.04" y2="327.60" stroke="#999999" stroke-width="1.1"/>
<line x1="415.92" y1="522.80" x2="415.92" y2="518.80" stroke="#999999" stroke-width="1.1"/>
<line x1="415.92" y1="323.60" x2="415.92" y2="327.60" stroke="#999999" stroke-width="1.1"/>
<line x1="76.40" y1="500.67" x2="80.40" y2="500.67" stroke="#999999" stroke-width="1.1"/>
<line x1="500.80" y1="500.67" x2="496.80" y2="500.67" stroke="#999999" stroke-width="1.1"/>
<line x1="76.40" y1="456.40" x2="80.40" y2="456.40" stroke="#999999" stroke-width="1.1"/>
<line x1="500.80" y1="456.40" x2="496.80" y2="456.40" stroke="#999999" stroke-width="1.1"/>
<line x1="76.40" y1="412.13" x2="80.40" y2="412.13" stroke="#999999" stroke-width="1.1"/>
<line x1="500.80" y1="412.13" x2="496.80" y2="412.13" stroke="#999999" stroke-width="1.1"/>
<line x1="76.40" y1="367.87" x2="80.40" y2="367.87" stroke="#999999" stroke-width="1.1"/>
<line x1="500.80" y1="367.87" x2="496.80" y2="367.87" stroke="#999999" stroke-width="1.1"/>
<clipPath id="c2"><rect x="76.90" y="323.60" width="424.40" height="199.50"/></clipPath>
<g clip-path="url(#c2)">
<path d="M76.40,387.79 L76.82,388.02 L77.25,388.24 L77.67,388.44 L78.10,388.62 L78.52,388.79 L78.95,388.93 L79.37,389.05 L79.80,389.15 L80.22,389.23 L80.64,389.29 L81.07,389.32 L81.49,389.34 L81.92,389.32 L82.34,389.27 L82.77,389.19 L83.19,389.07 L83.61,388.93 L84.04,388.77 L84.46,388.58 L84.89,388.38 L85.31,388.15 L85.74,387.91 L86.16,387.65 L86.59,387.38 L87.01,387.10 L87.43,386.81 L87.86,386.52 L88.28,386.22 L88.71,385.92 L89.13,385.62 L89.56,385.32 L89.98,385.03 L90.41,384.74 L90.83,384.47 L91.25,384.20 L91.68,383.95 L92.10,383.71 L92.53,383.47 L92.95,383.22 L93.38,382.96 L93.80,382.71 L94.22,382.45 L94.65,382.20 L95.07,381.94 L95.50,381.69 L95.92,381.44 L96.35,381.20 L96.77,380.97 L97.20,380.75 L97.62,380.53 L98.04,380.31 L98.47,380.10 L98.89,379.88 L99.32,379.67 L99.74,379.46 L100.17,379.26 L100.59,379.07 L101.02,378.88 L101.44,378.70 L101.86,378.54 L102.29,378.38 L102.71,378.24 L103.14,378.11 L103.56,377.97 L103.99,377.84 L104.41,377.71 L104.83,377.59 L105.26,377.47 L105.68,377.37 L106.11,377.26 L106.53,377.17 L106.96,377.09 L107.38,377.02 L107.81,376.96 L108.23,376.91 L108.65,376.87 L109.08,376.82 L109.50,376.78 L109.93,376.74 L110.35,376.70 L110.78,376.67 L111.20,376.63 L111.63,376.60 L112.05,376.57 L112.47,376.55 L112.90,376.53 L113.32,376.52 L113.75,376.51 L114.17,376.50 L114.60,376.50 L115.02,376.51 L115.44,376.54 L115.87,376.58 L116.29,376.63 L116.72,376.69 L117.14,376.76 L117.57,376.84 L117.99,376.92 L118.42,377.01 L118.84,377.11 L119.26,377.20 L119.69,377.31 L120.11,377.41 L120.54,377.51 L120.96,377.61 L121.39,377.71 L121.81,377.81 L122.24,377.91 L122.66,378.02 L123.08,378.14 L123.51,378.27 L123.93,378.42 L124.36,378.57 L124.78,378.73 L125.21,378.89 L125.63,379.06 L126.05,379.24 L126.48,379.41 L126.90,379.59 L127.33,379.77 L127.75,379.94 L128.18,380.11 L128.60,380.28 L129.03,380.45 L129.45,380.61 L129.87,380.76 L130.30,380.90 L130.72,381.03 L131.15,381.15 L131.57,381.26 L132.00,381.36 L132.42,381.44 L132.85,381.50 L133.27,381.55 L133.69,381.58 L134.12,381.59 L134.54,381.58 L134.97,381.55 L135.39,381.51 L135.82,381.45 L136.24,381.37 L136.66,381.28 L137.09,381.18 L137.51,381.06 L137.94,380.93 L138.36,380.79 L138.79,380.64 L139.21,380.48 L139.64,380.31 L140.06,380.13 L140.48,379.95 L140.91,379.75 L141.33,379.56 L141.76,379.35 L142.18,379.14 L142.61,378.93 L143.03,378.70 L143.46,378.42 L143.88,378.09 L144.30,377.73 L144.73,377.33 L145.15,376.90 L145.58,376.43 L146.00,375.93 L146.43,375.41 L146.85,374.86 L147.27,374.29 L147.70,373.70 L148.12,373.09 L148.55,372.47 L148.97,371.84 L149.40,371.20 L149.82,370.55 L150.25,369.84 L150.67,368.98 L151.09,368.06 L151.52,367.17 L151.94,366.39 L152.37,365.76 L152.79,365.16 L153.22,364.58 L153.64,364.03 L154.07,363.50 L154.49,363.00 L154.91,362.51 L155.34,362.05 L155.76,361.60 L156.19,361.17 L156.61,360.75 L157.04,360.34 L157.46,359.95 L157.88,359.57 L158.31,359.21 L158.73,358.88 L159.16,358.58 L159.58,358.28 L160.01,357.99 L160.43,357.68 L160.86,357.35 L161.28,356.99 L161.70,356.61 L162.13,356.22 L162.55,355.80 L162.98,355.35 L163.40,354.85 L163.83,354.28 L164.25,353.62 L164.68,352.88 L165.10,352.08 L165.52,351.18 L165.61,351.05 L165.95,350.21 L166.37,349.22 L166.37,349.22 L166.80,348.14 L167.22,347.12 L167.65,346.15 L167.73,345.96 L168.07,345.63 L168.49,345.24 L168.92,344.85 L169.34,344.46 L169.77,344.09 L170.19,343.72 L170.62,343.35 L171.04,342.99 L171.47,342.64 L171.89,342.29 L172.06,342.16 L172.31,342.13 L172.74,342.09 L173.16,342.05 L173.59,342.01 L173.84,341.99 L174.01,342.00 L174.44,342.04 L174.86,342.09 L175.29,342.13 L175.71,342.17 L176.05,342.20 L176.13,342.22 L176.56,342.32 L176.98,342.42 L177.15,342.46 L177.41,342.65 L177.83,342.97 L178.26,343.30 L178.60,343.56 L178.68,343.74 L179.10,344.63 L179.53,345.57 L179.70,345.96 L179.95,346.41 L180.38,347.20 L180.80,348.02 L181.23,348.95 L181.65,349.57 L182.08,350.08 L182.50,350.58 L182.92,351.18 L183.35,351.89 L183.77,352.69 L184.20,353.56 L184.62,354.46 L185.05,355.38 L185.47,356.30 L185.90,357.20 L186.32,358.10 L186.74,359.01 L187.17,359.93 L187.59,360.86 L188.02,361.79 L188.44,362.75 L188.87,363.71 L189.29,364.70 L189.71,365.70 L190.14,366.72 L190.56,367.76 L190.99,368.87 L191.41,370.08 L191.84,371.24 L192.26,372.21 L192.69,373.06 L193.11,373.85 L193.53,374.59 L193.96,375.30 L194.38,375.99 L194.81,376.67 L195.23,377.36 L195.66,378.05 L196.08,378.74 L196.51,379.43 L196.93,380.12 L197.35,380.80 L197.78,381.47 L198.20,382.13 L198.63,382.78 L199.05,383.42 L199.48,384.04 L199.90,384.64 L200.32,385.23 L200.75,385.79 L201.17,386.33 L201.60,386.85 L202.02,387.34 L202.45,387.81 L202.87,388.26 L203.30,388.70 L203.72,389.12 L204.14,389.52 L204.57,389.91 L204.99,390.29 L205.42,390.66 L205.84,391.01 L206.27,391.36 L206.69,391.70 L207.12,392.04 L207.54,392.36 L207.96,392.67 L208.39,392.98 L208.81,393.27 L209.24,393.56 L209.66,393.85 L210.09,394.13 L210.51,394.40 L210.93,394.67 L211.36,394.94 L211.78,395.21 L212.21,395.48 L212.63,395.74 L213.06,396.01 L213.48,396.28 L213.91,396.56 L214.33,396.84 L214.75,397.12 L215.18,397.41 L215.60,397.70 L216.03,398.00 L216.45,398.30 L216.88,398.61 L217.30,398.92 L217.73,399.23 L218.15,399.54 L218.57,399.86 L219.00,400.17 L219.42,400.49 L219.85,400.80 L220.27,401.12 L220.70,401.43 L221.12,401.75 L221.54,402.06 L221.97,402.37 L222.39,402.68 L222.82,402.98 L223.24,403.28 L223.67,403.58 L224.09,403.87 L224.52,404.16 L224.94,404.44 L225.36,404.72 L225.79,405.00 L226.21,405.28 L226.64,405.56 L227.06,405.84 L227.49,406.12 L227.91,406.38 L228.34,406.64 L228.76,406.88 L229.18,407.11 L229.61,407.33 L230.03,407.52 L230.46,407.71 L230.88,407.88 L231.31,408.05 L231.73,408.22 L232.15,408.38 L232.58,408.53 L233.00,408.68 L233.43,408.82 L233.85,408.96 L234.28,409.10 L234.70,409.23 L235.13,409.37 L235.55,409.49 L235.97,409.62 L236.40,409.75 L236.82,409.87 L237.25,410.00 L237.67,410.12 L238.10,410.25 L238.52,410.37 L238.95,410.50 L239.37,410.63 L239.79,410.76 L240.22,410.89 L240.64,411.03 L241.07,411.17 L241.49,411.31 L241.92,411.47 L242.34,411.62 L242.76,411.78 L243.19,411.94 L243.61,412.10 L244.04,412.26 L244.46,412.43 L244.89,412.59 L245.31,412.75 L245.74,412.90 L246.16,413.05 L246.58,413.20 L247.01,413.34 L247.43,413.47 L247.86,413.59 L248.28,413.71 L248.71,413.82 L249.13,413.91 L249.56,414.00 L249.98,414.07 L250.40,414.13 L250.83,414.18 L251.25,414.23 L251.68,414.28 L252.10,414.32 L252.53,414.37 L252.95,414.41 L253.37,414.45 L253.80,414.48 L254.22,414.51 L254.65,414.54 L255.07,414.55 L255.50,414.56 L255.92,414.57 L256.35,414.54 L256.77,414.44 L257.19,414.30 L257.62,414.10 L258.04,413.86 L258.47,413.58 L258.89,413.27 L259.32,412.94 L259.74,412.58 L260.17,412.21 L260.59,411.82 L261.01,411.43 L261.44,411.04 L261.86,410.66 L262.29,410.29 L262.71,409.89 L263.14,409.46 L263.56,409.00 L263.98,408.51 L264.41,408.00 L264.83,407.46 L265.26,406.92 L265.68,406.36 L266.11,405.79 L266.53,405.23 L266.96,404.66 L267.38,404.11 L267.80,403.56 L268.23,403.03 L268.65,402.51 L269.08,401.99 L269.50,401.45 L269.93,400.89 L270.35,400.32 L270.78,399.75 L271.20,399.18 L271.62,398.62 L272.05,398.07 L272.47,397.54 L272.90,397.04 L273.32,396.57 L273.75,396.13 L274.17,395.73 L274.59,395.39 L275.02,395.09 L275.44,394.82 L275.87,394.55 L276.29,394.29 L276.72,394.03 L277.14,393.79 L277.57,393.57 L277.99,393.37 L278.41,393.20 L278.84,393.06 L279.26,392.95 L279.69,392.89 L280.11,392.88 L280.54,392.89 L280.96,392.93 L281.39,392.98 L281.81,393.06 L282.23,393.14 L282.66,393.24 L283.08,393.36 L283.51,393.48 L283.93,393.61 L284.36,393.75 L284.78,393.89 L285.20,394.03 L285.63,394.18 L286.05,394.34 L286.48,394.55 L286.90,394.81 L287.33,395.12 L287.75,395.46 L288.18,395.84 L288.60,396.25 L289.02,396.68 L289.45,397.13 L289.87,397.60 L290.30,398.08 L290.72,398.56 L291.15,399.05 L291.57,399.53 L292.00,400.01 L292.42,400.48 L292.84,400.92 L293.27,401.35 L293.69,401.75 L294.12,402.13 L294.54,402.46 L294.97,402.76 L295.39,403.02 L295.81,403.22 L296.24,403.37 L296.66,403.47 L297.09,403.50 L297.51,403.47 L297.94,403.39 L298.36,403.25 L298.79,403.07 L299.21,402.84 L299.63,402.58 L300.06,402.29 L300.48,401.97 L300.91,401.62 L301.33,401.26 L301.76,400.89 L302.18,400.51 L302.61,400.12 L303.03,399.73 L303.45,399.35 L303.88,398.99 L304.30,398.63 L304.73,398.25 L305.15,397.80 L305.58,397.30 L306.00,396.76 L306.42,396.20 L306.85,395.63 L307.27,395.06 L307.70,394.50 L308.12,393.98 L308.55,393.49 L308.97,393.07 L309.40,392.72 L309.82,392.45 L310.24,392.27 L310.67,392.21 L311.09,392.28 L311.52,392.46 L311.94,392.75 L312.37,393.14 L312.79,393.62 L313.22,394.18 L313.64,394.81 L314.06,395.50 L314.49,396.23 L314.91,397.01 L315.34,397.81 L315.76,398.63 L316.19,399.46 L316.61,400.31 L317.03,401.32 L317.46,402.51 L317.88,403.84 L318.31,405.30 L318.73,406.85 L319.16,408.47 L319.58,410.13 L320.01,411.81 L320.43,413.47 L320.85,415.08 L321.28,416.63 L321.70,418.10 L322.13,419.53 L322.55,420.94 L322.98,422.35 L323.40,423.75 L323.83,425.15 L324.25,426.57 L324.67,428.01 L325.10,429.48 L325.52,430.99 L325.95,432.55 L326.37,434.16 L326.80,435.86 L327.22,437.70 L327.64,439.63 L328.07,441.61 L328.49,443.61 L328.92,445.56 L329.34,447.45 L329.77,449.22 L330.19,450.84 L330.62,452.43 L331.04,454.02 L331.46,455.60 L331.89,457.14 L332.31,458.64 L332.74,460.08 L333.16,461.46 L333.59,462.77 L334.01,463.98 L334.44,465.09 L334.86,466.09 L335.28,466.97 L335.71,467.78 L336.13,468.55 L336.56,469.29 L336.98,470.00 L337.41,470.68 L337.83,471.33 L338.25,471.96 L338.68,472.56 L339.10,473.14 L339.53,473.70 L339.95,474.24 L340.38,474.77 L340.80,475.28 L341.23,475.77 L341.65,476.26 L342.07,476.74 L342.50,477.21 L342.92,477.68 L343.35,478.14 L343.77,478.60 L344.20,479.07 L344.62,479.53 L345.05,480.00 L345.47,480.48 L345.89,480.97 L346.32,481.46 L346.74,481.97 L347.17,482.49 L347.59,483.02 L348.02,483.55 L348.44,484.10 L348.86,484.64 L349.29,485.19 L349.71,485.74 L350.14,486.29 L350.56,486.85 L350.99,487.40 L351.41,487.95 L351.84,488.50 L352.26,489.04 L352.68,489.58 L353.11,490.12 L353.53,490.64 L353.96,491.16 L354.38,491.67 L354.81,492.17 L355.23,492.66 L355.66,493.14 L356.08,493.60 L356.50,494.05 L356.93,494.49 L357.35,494.90 L357.78,495.30 L358.20,495.69 L358.63,496.05 L359.05,496.39 L359.47,496.71 L359.90,497.01 L360.32,497.29 L360.75,497.56 L361.17,497.83 L361.60,498.09 L362.02,498.35 L362.45,498.61 L362.87,498.86 L363.29,499.10 L363.72,499.34 L364.14,499.58 L364.57,499.81 L364.99,500.04 L365.42,500.26 L365.84,500.48 L366.27,500.70 L366.69,500.91 L367.11,501.11 L367.54,501.31 L367.96,501.51 L368.39,501.71 L368.81,501.90 L369.24,502.08 L369.66,502.27 L370.08,502.44 L370.51,502.62 L370.93,502.79 L371.36,502.96 L371.78,503.12 L372.21,503.28 L372.63,503.44 L373.06,503.59 L373.48,503.74 L373.90,503.88 L374.33,504.02 L374.75,504.16 L375.18,504.29 L375.60,504.42 L376.03,504.55 L376.45,504.68 L376.88,504.80 L377.30,504.91 L377.72,505.03 L378.15,505.14 L378.57,505.25 L379.00,505.36 L379.42,505.47 L379.85,505.58 L380.27,505.69 L380.69,505.80 L381.12,505.91 L381.54,506.02 L381.97,506.13 L382.39,506.24 L382.82,506.34 L383.24,506.45 L383.67,506.56 L384.09,506.66 L384.51,506.77 L384.94,506.87 L385.36,506.98 L385.79,507.08 L386.21,507.18 L386.64,507.28 L387.06,507.38 L387.49,507.48 L387.91,507.57 L388.33,507.67 L388.76,507.76 L389.18,507.85 L389.61,507.94 L390.03,508.03 L390.46,508.12 L390.88,508.20 L391.30,508.28 L391.73,508.36 L392.15,508.44 L392.58,508.52 L393.00,508.59 L393.43,508.66 L393.85,508.73 L394.28,508.80 L394.70,508.87 L395.12,508.93 L395.55,508.99 L395.97,509.04 L396.40,509.10 L396.82,509.15 L397.25,509.20 L397.67,509.24 L398.10,509.28 L398.52,509.32 L398.94,509.36 L399.37,509.39 L399.79,509.42 L400.22,509.44 L400.64,509.46 L401.07,509.48 L401.49,509.50 L401.91,509.51 L402.34,509.52 L402.76,509.52 L403.19,509.52 L403.61,509.51 L404.04,509.51 L404.46,509.49 L404.89,509.48 L405.31,509.46 L405.73,509.44 L406.16,509.41 L406.58,509.38 L407.01,509.35 L407.43,509.31 L407.86,509.27 L408.28,509.23 L408.71,509.19 L409.13,509.14 L409.55,509.09 L409.98,509.04 L410.40,508.98 L410.83,508.93 L411.25,508.87 L411.68,508.81 L412.10,508.74 L412.52,508.68 L412.95,508.61 L413.37,508.54 L413.80,508.47 L414.22,508.40 L414.65,508.33 L415.07,508.25 L415.50,508.18 L415.92,508.10 L416.34,508.03 L416.77,507.95 L417.19,507.87 L417.62,507.79 L418.04,507.71 L418.47,507.63 L418.89,507.55 L419.32,507.47 L419.74,507.39 L420.16,507.31 L420.59,507.23 L421.01,507.15 L421.44,507.07 L421.86,506.99 L422.29,506.91 L422.71,506.83 L423.13,506.75 L423.56,506.67 L423.98,506.58 L424.41,506.49 L424.83,506.39 L425.26,506.30 L425.68,506.20 L426.11,506.09 L426.53,505.99 L426.95,505.88 L427.38,505.77 L427.80,505.66 L428.23,505.54 L428.65,505.43 L429.08,505.31 L429.50,505.19 L429.93,505.06 L430.35,504.94 L430.77,504.81 L431.20,504.69 L431.62,504.56 L432.05,504.43 L432.47,504.30 L432.90,504.17 L433.32,504.03 L433.74,503.90 L434.17,503.77 L434.59,503.63 L435.02,503.50 L435.44,503.36 L435.87,503.23 L436.29,503.09 L436.72,502.95 L437.14,502.82 L437.56,502.68 L437.99,502.55 L438.41,502.41 L438.84,502.28 L439.26,502.14 L439.69,502.01 L440.11,501.88 L440.54,501.75 L440.96,501.62 L441.38,501.48 L441.81,501.35 L442.23,501.21 L442.66,501.08 L443.08,500.94 L443.51,500.80 L443.93,500.66 L444.35,500.52 L444.78,500.38 L445.20,500.24 L445.63,500.09 L446.05,499.95 L446.48,499.81 L446.90,499.66 L447.33,499.52 L447.75,499.37 L448.17,499.22 L448.60,499.08 L449.02,498.93 L449.45,498.78 L449.87,498.64 L450.30,498.49 L450.72,498.34 L451.15,498.19 L451.57,498.04 L451.99,497.90 L452.42,497.75 L452.84,497.60 L453.27,497.45 L453.69,497.30 L454.12,497.16 L454.54,497.01 L454.96,496.86 L455.39,496.71 L455.81,496.57 L456.24,496.42 L456.66,496.28 L457.09,496.13 L457.51,495.99 L457.94,495.84 L458.36,495.70 L458.78,495.56 L459.21,495.41 L459.63,495.27 L460.06,495.13 L460.48,494.99 L460.91,494.85 L461.33,494.71 L461.76,494.56 L462.18,494.41 L462.60,494.26 L463.03,494.11 L463.45,493.96 L463.88,493.81 L464.30,493.66 L464.73,493.50 L465.15,493.35 L465.57,493.19 L466.00,493.04 L466.42,492.88 L466.85,492.73 L467.27,492.57 L467.70,492.42 L468.12,492.26 L468.55,492.11 L468.97,491.95 L469.39,491.80 L469.82,491.65 L470.24,491.50 L470.67,491.35 L471.09,491.20 L471.52,491.05 L471.94,490.90 L472.37,490.76 L472.79,490.62 L473.21,490.47 L473.64,490.34 L474.06,490.20 L474.49,490.06 L474.91,489.93 L475.34,489.80 L475.76,489.67 L476.18,489.55 L476.61,489.43 L477.03,489.31 L477.46,489.19 L477.88,489.08 L478.31,488.97 L478.73,488.87 L479.16,488.77 L479.58,488.67 L480.00,488.57 L480.43,488.49 L480.85,488.40 L481.28,488.32 L481.70,488.24 L482.13,488.17 L482.55,488.09 L482.98,488.01 L483.40,487.94 L483.82,487.87 L484.25,487.79 L484.67,487.72 L485.10,487.65 L485.52,487.57 L485.95,487.50 L486.37,487.43 L486.79,487.36 L487.22,487.29 L487.64,487.23 L488.07,487.16 L488.49,487.09 L488.92,487.03 L489.34,486.97 L489.77,486.90 L490.19,486.84 L490.61,486.78 L491.04,486.72 L491.46,486.67 L491.89,486.61 L492.31,486.56 L492.74,486.50 L493.16,486.45 L493.59,486.40 L494.01,486.35 L494.43,486.31 L494.86,486.26 L495.28,486.22 L495.71,486.18 L496.13,486.14 L496.56,486.10 L496.98,486.06 L497.40,486.03 L497.83,486.00 L498.25,485.97 L498.68,485.94 L499.10,485.92 L499.53,485.89 L499.95,485.87 L500.38,485.85 L500.80,485.84" fill="none" stroke="#ff48ff" stroke-width="3.0" stroke-linejoin="round" stroke-linecap="butt"/>
<path d="M76.40,388.45 L76.82,388.76 L77.25,389.05 L77.67,389.32 L78.10,389.58 L78.52,389.82 L78.95,390.03 L79.37,390.21 L79.80,390.37 L80.22,390.49 L80.64,390.59 L81.07,390.64 L81.49,390.66 L81.92,390.65 L82.34,390.60 L82.77,390.53 L83.19,390.43 L83.61,390.30 L84.04,390.15 L84.46,389.99 L84.89,389.80 L85.31,389.59 L85.74,389.37 L86.16,389.14 L86.59,388.89 L87.01,388.64 L87.43,388.37 L87.86,388.10 L88.28,387.83 L88.71,387.55 L89.13,387.28 L89.56,387.00 L89.98,386.73 L90.41,386.46 L90.83,386.20 L91.25,385.95 L91.68,385.71 L92.10,385.48 L92.53,385.24 L92.95,384.99 L93.38,384.73 L93.80,384.46 L94.22,384.20 L94.65,383.93 L95.07,383.66 L95.50,383.41 L95.92,383.16 L96.35,382.93 L96.77,382.71 L97.20,382.51 L97.62,382.33 L98.04,382.17 L98.47,382.01 L98.89,381.87 L99.32,381.73 L99.74,381.61 L100.17,381.48 L100.59,381.36 L101.02,381.25 L101.44,381.13 L101.86,381.01 L102.29,380.89 L102.71,380.76 L103.14,380.63 L103.56,380.49 L103.99,380.34 L104.41,380.18 L104.83,380.01 L105.26,379.82 L105.68,379.60 L106.11,379.34 L106.53,379.04 L106.96,378.73 L107.38,378.40 L107.81,378.07 L108.23,377.76 L108.65,377.46 L109.08,377.20 L109.50,376.98 L109.93,376.80 L110.35,376.63 L110.78,376.48 L111.20,376.33 L111.63,376.19 L112.05,376.06 L112.47,375.94 L112.90,375.82 L113.32,375.70 L113.75,375.59 L114.17,375.48 L114.60,375.36 L115.02,375.24 L115.44,375.13 L115.87,375.00 L116.29,374.87 L116.72,374.74 L117.14,374.61 L117.57,374.47 L117.99,374.34 L118.42,374.20 L118.84,374.07 L119.26,373.93 L119.69,373.80 L120.11,373.67 L120.54,373.55 L120.96,373.43 L121.39,373.31 L121.81,373.20 L122.24,373.09 L122.66,372.98 L123.08,372.87 L123.51,372.77 L123.93,372.67 L124.36,372.57 L124.78,372.48 L125.21,372.40 L125.63,372.33 L126.05,372.27 L126.48,372.22 L126.90,372.17 L127.33,372.12 L127.75,372.08 L128.18,372.03 L128.60,372.00 L129.03,371.96 L129.45,371.92 L129.87,371.89 L130.30,371.86 L130.72,371.83 L131.15,371.81 L131.57,371.78 L132.00,371.75 L132.42,371.73 L132.85,371.71 L133.27,371.69 L133.69,371.66 L134.12,371.64 L134.54,371.62 L134.97,371.60 L135.39,371.58 L135.82,371.56 L136.24,371.54 L136.66,371.52 L137.09,371.49 L137.51,371.47 L137.94,371.44 L138.36,371.42 L138.79,371.39 L139.21,371.36 L139.64,371.33 L140.06,371.30 L140.48,371.26 L140.91,371.23 L141.33,371.19 L141.76,371.15 L142.18,371.10 L142.61,371.05 L143.03,371.00 L143.46,370.95 L143.88,370.89 L144.30,370.83 L144.73,370.77 L145.15,370.70 L145.58,370.60 L146.00,370.47 L146.43,370.31 L146.85,370.13 L147.27,369.93 L147.70,369.71 L148.12,369.48 L148.55,369.24 L148.97,368.99 L149.40,368.73 L149.82,368.47 L150.25,368.22 L150.67,367.96 L151.09,367.71 L151.52,367.47 L151.94,367.22 L152.37,366.97 L152.79,366.71 L153.22,366.45 L153.64,366.18 L154.07,365.91 L154.49,365.63 L154.91,365.35 L155.34,365.07 L155.76,364.78 L156.19,364.48 L156.61,364.19 L157.04,363.89 L157.46,363.59 L157.88,363.28 L158.31,362.98 L158.73,362.67 L159.16,362.36 L159.58,362.04 L160.01,361.73 L160.43,361.41 L160.86,361.10 L161.28,360.78 L161.70,360.47 L162.13,360.15 L162.55,359.83 L162.98,359.52 L163.40,359.19 L163.83,358.86 L164.25,358.53 L164.68,358.19 L165.10,357.85 L165.52,357.51 L165.95,357.16 L166.37,356.81 L166.80,356.46 L167.22,356.11 L167.65,355.76 L168.07,355.41 L168.49,355.07 L168.92,354.72 L169.34,354.38 L169.77,354.05 L170.19,353.72 L170.62,353.39 L171.04,353.07 L171.47,352.76 L171.89,352.45 L172.31,352.14 L172.74,351.84 L173.16,351.54 L173.59,351.24 L174.01,350.93 L174.44,350.63 L174.86,350.33 L175.29,350.03 L175.71,349.72 L176.13,349.41 L176.56,349.09 L176.98,348.77 L177.41,348.44 L177.83,348.10 L178.26,347.77 L178.68,347.43 L179.10,347.10 L179.53,346.77 L179.95,346.45 L180.38,346.14 L180.80,345.83 L181.23,345.53 L181.65,345.24 L182.08,344.94 L182.50,344.66 L182.92,344.37 L183.35,344.09 L183.77,343.81 L184.20,343.55 L184.62,343.28 L184.96,343.07 L185.05,343.02 L185.47,342.77 L185.90,342.53 L186.32,342.29 L186.74,342.05 L187.08,341.86 L187.17,341.81 L187.59,341.54 L188.02,341.27 L188.44,341.01 L188.53,340.96 L188.87,340.92 L189.21,340.88 L189.29,340.88 L189.71,340.89 L190.14,340.90 L190.56,340.91 L190.65,340.92 L190.99,340.97 L191.41,341.04 L191.84,341.12 L192.09,341.16 L192.26,341.41 L192.69,342.06 L192.86,342.33 L193.11,342.73 L193.53,343.43 L193.96,344.14 L194.38,344.88 L194.81,345.64 L194.98,345.96 L195.23,346.50 L195.66,347.44 L195.74,347.63 L196.08,348.32 L196.51,349.16 L196.93,350.15 L197.35,351.41 L197.78,352.87 L198.20,354.40 L198.63,355.92 L199.05,357.36 L199.48,358.75 L199.90,360.13 L200.32,361.52 L200.75,362.95 L201.17,364.46 L201.60,366.08 L202.02,367.82 L202.45,369.73 L202.87,371.84 L203.30,374.48 L203.72,377.80 L204.14,381.52 L204.57,385.36 L204.99,389.06 L205.42,392.34 L205.84,394.99 L206.27,397.43 L206.69,399.72 L207.12,401.76 L207.54,403.48 L207.96,404.80 L208.39,405.90 L208.81,406.90 L209.24,407.81 L209.66,408.64 L210.09,409.39 L210.51,410.08 L210.93,410.71 L211.36,411.29 L211.78,411.83 L212.21,412.33 L212.63,412.82 L213.06,413.30 L213.48,413.77 L213.91,414.22 L214.33,414.66 L214.75,415.09 L215.18,415.51 L215.60,415.90 L216.03,416.29 L216.45,416.65 L216.88,417.00 L217.30,417.34 L217.73,417.65 L218.15,417.95 L218.57,418.23 L219.00,418.49 L219.42,418.73 L219.85,418.94 L220.27,419.14 L220.70,419.31 L221.12,419.47 L221.54,419.61 L221.97,419.75 L222.39,419.89 L222.82,420.03 L223.24,420.16 L223.67,420.29 L224.09,420.41 L224.52,420.53 L224.94,420.64 L225.36,420.74 L225.79,420.83 L226.21,420.92 L226.64,420.99 L227.06,421.06 L227.49,421.11 L227.91,421.16 L228.34,421.19 L228.76,421.20 L229.18,421.21 L229.61,421.19 L230.03,421.14 L230.46,421.07 L230.88,420.97 L231.31,420.86 L231.73,420.72 L232.15,420.57 L232.58,420.41 L233.00,420.23 L233.43,420.05 L233.85,419.85 L234.28,419.65 L234.70,419.45 L235.13,419.24 L235.55,419.03 L235.97,418.83 L236.40,418.63 L236.82,418.44 L237.25,418.26 L237.67,418.07 L238.10,417.87 L238.52,417.67 L238.95,417.47 L239.37,417.25 L239.79,417.04 L240.22,416.81 L240.64,416.59 L241.07,416.35 L241.49,416.12 L241.92,415.88 L242.34,415.64 L242.76,415.39 L243.19,415.14 L243.61,414.90 L244.04,414.64 L244.46,414.39 L244.89,414.14 L245.31,413.88 L245.74,413.63 L246.16,413.38 L246.58,413.12 L247.01,412.87 L247.43,412.62 L247.86,412.36 L248.28,412.12 L248.71,411.87 L249.13,411.62 L249.56,411.38 L249.98,411.14 L250.40,410.91 L250.83,410.68 L251.25,410.45 L251.68,410.23 L252.10,410.01 L252.53,409.79 L252.95,409.58 L253.37,409.36 L253.80,409.15 L254.22,408.94 L254.65,408.73 L255.07,408.52 L255.50,408.31 L255.92,408.10 L256.35,407.90 L256.77,407.69 L257.19,407.49 L257.62,407.28 L258.04,407.08 L258.47,406.87 L258.89,406.67 L259.32,406.47 L259.74,406.26 L260.17,406.06 L260.59,405.85 L261.01,405.64 L261.44,405.44 L261.86,405.23 L262.29,405.02 L262.71,404.81 L263.14,404.59 L263.56,404.38 L263.98,404.16 L264.41,403.95 L264.83,403.73 L265.26,403.50 L265.68,403.28 L266.11,403.05 L266.53,402.81 L266.96,402.57 L267.38,402.32 L267.80,402.06 L268.23,401.79 L268.65,401.53 L269.08,401.25 L269.50,400.98 L269.93,400.70 L270.35,400.42 L270.78,400.14 L271.20,399.86 L271.62,399.58 L272.05,399.30 L272.47,399.02 L272.90,398.74 L273.32,398.47 L273.75,398.20 L274.17,397.94 L274.59,397.67 L275.02,397.42 L275.44,397.17 L275.87,396.93 L276.29,396.70 L276.72,396.47 L277.14,396.26 L277.57,396.05 L277.99,395.86 L278.41,395.67 L278.84,395.50 L279.26,395.34 L279.69,395.20 L280.11,395.07 L280.54,394.94 L280.96,394.81 L281.39,394.68 L281.81,394.56 L282.23,394.43 L282.66,394.30 L283.08,394.18 L283.51,394.06 L283.93,393.94 L284.36,393.82 L284.78,393.71 L285.20,393.59 L285.63,393.49 L286.05,393.38 L286.48,393.28 L286.90,393.18 L287.33,393.09 L287.75,393.00 L288.18,392.92 L288.60,392.84 L289.02,392.77 L289.45,392.70 L289.87,392.65 L290.30,392.59 L290.72,392.55 L291.15,392.51 L291.57,392.48 L292.00,392.46 L292.42,392.44 L292.84,392.43 L293.27,392.44 L293.69,392.44 L294.12,392.45 L294.54,392.46 L294.97,392.48 L295.39,392.50 L295.81,392.52 L296.24,392.55 L296.66,392.58 L297.09,392.61 L297.51,392.64 L297.94,392.68 L298.36,392.71 L298.79,392.75 L299.21,392.80 L299.63,392.84 L300.06,392.89 L300.48,392.96 L300.91,393.06 L301.33,393.18 L301.76,393.34 L302.18,393.52 L302.61,393.72 L303.03,393.94 L303.45,394.19 L303.88,394.44 L304.30,394.71 L304.73,395.00 L305.15,395.29 L305.58,395.59 L306.00,395.89 L306.42,396.20 L306.85,396.51 L307.27,396.82 L307.70,397.13 L308.12,397.43 L308.55,397.72 L308.97,398.00 L309.40,398.28 L309.82,398.53 L310.24,398.78 L310.67,399.01 L311.09,399.24 L311.52,399.46 L311.94,399.68 L312.37,399.89 L312.79,400.11 L313.22,400.32 L313.64,400.53 L314.06,400.74 L314.49,400.95 L314.91,401.17 L315.34,401.39 L315.76,401.61 L316.19,401.84 L316.61,402.08 L317.03,402.33 L317.46,402.58 L317.88,402.85 L318.31,403.13 L318.73,403.42 L319.16,403.73 L319.58,404.05 L320.01,404.39 L320.43,404.75 L320.85,405.16 L321.28,405.61 L321.70,406.08 L322.13,406.59 L322.55,407.12 L322.98,407.68 L323.40,408.25 L323.83,408.83 L324.25,409.43 L324.67,410.03 L325.10,410.63 L325.52,411.23 L325.95,411.83 L326.37,412.47 L326.80,413.15 L327.22,413.84 L327.64,414.56 L328.07,415.29 L328.49,416.03 L328.92,416.76 L329.34,417.49 L329.77,418.20 L330.19,418.89 L330.62,419.55 L331.04,420.18 L331.46,420.77 L331.89,421.32 L332.31,421.84 L332.74,422.35 L333.16,422.84 L333.59,423.31 L334.01,423.77 L334.44,424.23 L334.86,424.68 L335.28,425.13 L335.71,425.58 L336.13,426.04 L336.56,426.51 L336.98,426.99 L337.41,427.48 L337.83,427.99 L338.25,428.52 L338.68,429.05 L339.10,429.59 L339.53,430.14 L339.95,430.69 L340.38,431.24 L340.80,431.78 L341.23,432.32 L341.65,432.85 L342.07,433.36 L342.50,433.86 L342.92,434.35 L343.35,434.81 L343.77,435.25 L344.20,435.66 L344.62,436.05 L345.05,436.43 L345.47,436.80 L345.89,437.17 L346.32,437.53 L346.74,437.89 L347.17,438.25 L347.59,438.59 L348.02,438.94 L348.44,439.27 L348.86,439.61 L349.29,439.94 L349.71,440.26 L350.14,440.58 L350.56,440.89 L350.99,441.19 L351.41,441.50 L351.84,441.79 L352.26,442.09 L352.68,442.37 L353.11,442.66 L353.53,442.93 L353.96,443.21 L354.38,443.47 L354.81,443.74 L355.23,443.99 L355.66,444.25 L356.08,444.49 L356.50,444.74 L356.93,444.97 L357.35,445.21 L357.78,445.44 L358.20,445.66 L358.63,445.88 L359.05,446.09 L359.47,446.30 L359.90,446.51 L360.32,446.71 L360.75,446.90 L361.17,447.09 L361.60,447.28 L362.02,447.47 L362.45,447.65 L362.87,447.82 L363.29,448.00 L363.72,448.17 L364.14,448.34 L364.57,448.50 L364.99,448.66 L365.42,448.82 L365.84,448.98 L366.27,449.13 L366.69,449.29 L367.11,449.44 L367.54,449.59 L367.96,449.73 L368.39,449.88 L368.81,450.03 L369.24,450.17 L369.66,450.31 L370.08,450.45 L370.51,450.60 L370.93,450.74 L371.36,450.88 L371.78,451.02 L372.21,451.16 L372.63,451.30 L373.06,451.44 L373.48,451.59 L373.90,451.73 L374.33,451.87 L374.75,452.02 L375.18,452.16 L375.60,452.31 L376.03,452.46 L376.45,452.61 L376.88,452.76 L377.30,452.92 L377.72,453.07 L378.15,453.23 L378.57,453.39 L379.00,453.56 L379.42,453.72 L379.85,453.89 L380.27,454.06 L380.69,454.23 L381.12,454.40 L381.54,454.57 L381.97,454.74 L382.39,454.92 L382.82,455.09 L383.24,455.27 L383.67,455.44 L384.09,455.62 L384.51,455.80 L384.94,455.97 L385.36,456.15 L385.79,456.33 L386.21,456.51 L386.64,456.69 L387.06,456.87 L387.49,457.05 L387.91,457.23 L388.33,457.40 L388.76,457.58 L389.18,457.76 L389.61,457.94 L390.03,458.12 L390.46,458.29 L390.88,458.47 L391.30,458.65 L391.73,458.82 L392.15,459.00 L392.58,459.17 L393.00,459.34 L393.43,459.51 L393.85,459.68 L394.28,459.85 L394.70,460.02 L395.12,460.19 L395.55,460.35 L395.97,460.51 L396.40,460.68 L396.82,460.84 L397.25,461.00 L397.67,461.15 L398.10,461.31 L398.52,461.46 L398.94,461.61 L399.37,461.76 L399.79,461.91 L400.22,462.05 L400.64,462.19 L401.07,462.33 L401.49,462.47 L401.91,462.61 L402.34,462.75 L402.76,462.88 L403.19,463.02 L403.61,463.15 L404.04,463.28 L404.46,463.41 L404.89,463.54 L405.31,463.67 L405.73,463.80 L406.16,463.92 L406.58,464.05 L407.01,464.18 L407.43,464.31 L407.86,464.43 L408.28,464.56 L408.71,464.69 L409.13,464.82 L409.55,464.94 L409.98,465.07 L410.40,465.20 L410.83,465.33 L411.25,465.46 L411.68,465.59 L412.10,465.72 L412.52,465.86 L412.95,465.99 L413.37,466.13 L413.80,466.27 L414.22,466.41 L414.65,466.55 L415.07,466.69 L415.50,466.84 L415.92,466.98 L416.34,467.13 L416.77,467.28 L417.19,467.44 L417.62,467.59 L418.04,467.75 L418.47,467.91 L418.89,468.08 L419.32,468.25 L419.74,468.42 L420.16,468.59 L420.59,468.77 L421.01,468.95 L421.44,469.12 L421.86,469.30 L422.29,469.48 L422.71,469.66 L423.13,469.84 L423.56,470.02 L423.98,470.20 L424.41,470.38 L424.83,470.56 L425.26,470.75 L425.68,470.94 L426.11,471.13 L426.53,471.33 L426.95,471.53 L427.38,471.73 L427.80,471.93 L428.23,472.14 L428.65,472.35 L429.08,472.56 L429.50,472.77 L429.93,472.98 L430.35,473.19 L430.77,473.40 L431.20,473.61 L431.62,473.82 L432.05,474.03 L432.47,474.24 L432.90,474.44 L433.32,474.64 L433.74,474.84 L434.17,475.04 L434.59,475.24 L435.02,475.43 L435.44,475.61 L435.87,475.80 L436.29,475.97 L436.72,476.15 L437.14,476.31 L437.56,476.48 L437.99,476.63 L438.41,476.78 L438.84,476.93 L439.26,477.06 L439.69,477.19 L440.11,477.31 L440.54,477.43 L440.96,477.54 L441.38,477.66 L441.81,477.77 L442.23,477.88 L442.66,477.99 L443.08,478.07 L443.51,478.14 L443.93,478.19 L444.35,478.20 L444.78,478.20 L445.20,478.20 L445.63,478.19 L446.05,478.18 L446.48,478.17 L446.90,478.16 L447.33,478.14 L447.75,478.12 L448.17,478.11 L448.60,478.09 L449.02,478.03 L449.45,477.94 L449.87,477.81 L450.30,477.64 L450.72,477.45 L451.15,477.22 L451.57,476.98 L451.99,476.72 L452.42,476.44 L452.84,476.16 L453.27,475.86 L453.69,475.57 L454.12,475.28 L454.54,475.00 L454.96,474.72 L455.39,474.46 L455.81,474.22 L456.24,474.00 L456.66,473.81 L457.09,473.61 L457.51,473.40 L457.94,473.19 L458.36,472.97 L458.78,472.75 L459.21,472.54 L459.63,472.32 L460.06,472.11 L460.48,471.91 L460.91,471.71 L461.33,471.53 L461.76,471.37 L462.18,471.22 L462.60,471.08 L463.03,470.97 L463.45,470.89 L463.88,470.83 L464.30,470.79 L464.73,470.79 L465.15,470.81 L465.57,470.84 L466.00,470.90 L466.42,470.97 L466.85,471.06 L467.27,471.16 L467.70,471.27 L468.12,471.40 L468.55,471.53 L468.97,471.67 L469.39,471.82 L469.82,471.97 L470.24,472.13 L470.67,472.29 L471.09,472.44 L471.52,472.60 L471.94,472.76 L472.37,472.91 L472.79,473.06 L473.21,473.21 L473.64,473.38 L474.06,473.55 L474.49,473.73 L474.91,473.91 L475.34,474.11 L475.76,474.30 L476.18,474.51 L476.61,474.72 L477.03,474.93 L477.46,475.15 L477.88,475.37 L478.31,475.59 L478.73,475.82 L479.16,476.05 L479.58,476.28 L480.00,476.51 L480.43,476.74 L480.85,476.98 L481.28,477.21 L481.70,477.44 L482.13,477.67 L482.55,477.90 L482.98,478.12 L483.40,478.34 L483.82,478.56 L484.25,478.78 L484.67,478.99 L485.10,479.20 L485.52,479.40 L485.95,479.60 L486.37,479.81 L486.79,480.01 L487.22,480.21 L487.64,480.42 L488.07,480.62 L488.49,480.82 L488.92,481.02 L489.34,481.22 L489.77,481.42 L490.19,481.62 L490.61,481.82 L491.04,482.02 L491.46,482.22 L491.89,482.42 L492.31,482.62 L492.74,482.82 L493.16,483.01 L493.59,483.21 L494.01,483.41 L494.43,483.60 L494.86,483.80 L495.28,484.00 L495.71,484.19 L496.13,484.39 L496.56,484.58 L496.98,484.77 L497.40,484.97 L497.83,485.16 L498.25,485.35 L498.68,485.55 L499.10,485.74 L499.53,485.93 L499.95,486.12 L500.38,486.31 L500.80,486.50" fill="none" stroke="#1582c8" stroke-width="3.0" stroke-linejoin="round" stroke-linecap="butt"/>
</g>
<text x="76.40" y="270.60" font-size="21.5" text-anchor="middle" fill="#000" stroke="#000" >300</text>
<text x="161.28" y="270.60" font-size="21.5" text-anchor="middle" fill="#000" stroke="#000" >400</text>
<text x="246.16" y="270.60" font-size="21.5" text-anchor="middle" fill="#000" stroke="#000" >500</text>
<text x="331.04" y="270.60" font-size="21.5" text-anchor="middle" fill="#000" stroke="#000" >600</text>
<text x="415.92" y="270.60" font-size="21.5" text-anchor="middle" fill="#000" stroke="#000" >700</text>
<text x="500.80" y="270.60" font-size="21.5" text-anchor="middle" fill="#000" stroke="#000" >800</text>
<text x="287.50" y="301.80" font-size="24.3" text-anchor="middle" fill="#000" stroke="#000" >wavelength (nm)</text>
<text x="76.40" y="547.50" font-size="21.5" text-anchor="middle" fill="#000" stroke="#000" >300</text>
<text x="161.28" y="547.50" font-size="21.5" text-anchor="middle" fill="#000" stroke="#000" >400</text>
<text x="246.16" y="547.50" font-size="21.5" text-anchor="middle" fill="#000" stroke="#000" >500</text>
<text x="331.04" y="547.50" font-size="21.5" text-anchor="middle" fill="#000" stroke="#000" >600</text>
<text x="415.92" y="547.50" font-size="21.5" text-anchor="middle" fill="#000" stroke="#000" >700</text>
<text x="500.80" y="547.50" font-size="21.5" text-anchor="middle" fill="#000" stroke="#000" >800</text>
<text x="287.50" y="581.60" font-size="24.3" text-anchor="middle" fill="#000" stroke="#000" >wavelength (nm)</text>
<text x="72.80" y="255.20" font-size="21.5" text-anchor="end" fill="#000" stroke="#000" >0</text>
<text x="72.80" y="188.77" font-size="21.5" text-anchor="end" fill="#000" stroke="#000" >2</text>
<text x="72.80" y="122.33" font-size="21.5" text-anchor="end" fill="#000" stroke="#000" >4</text>
<text x="72.80" y="55.90" font-size="21.5" text-anchor="end" fill="#000" stroke="#000" >6</text>
<text x="72.80" y="509.67" font-size="21.5" text-anchor="end" fill="#000" stroke="#000" >6</text>
<text x="72.80" y="465.40" font-size="21.5" text-anchor="end" fill="#000" stroke="#000" >8</text>
<text x="72.80" y="421.13" font-size="21.5" text-anchor="end" fill="#000" stroke="#000" >10</text>
<text x="72.80" y="376.87" font-size="21.5" text-anchor="end" fill="#000" stroke="#000" >12</text>
<text x="72.80" y="332.60" font-size="21.5" text-anchor="end" fill="#000" stroke="#000" >14</text>
<text x="76.50" y="42.20" font-size="21.5" text-anchor="start" fill="#000" stroke="#000" >x 10</text>
<text x="116.80" y="28.20" font-size="14.5" text-anchor="start" fill="#000" stroke="#000" >5</text>
<text transform="translate(34.3,146.15) rotate(-90)" stroke="#000" font-size="25" text-anchor="middle">ε (cm<tspan font-size="15.5" dy="-7.5">-1</tspan><tspan dy="7.5">/M)</tspan></text>
<text transform="translate(34.3,423.20) rotate(-90)" stroke="#000" font-size="25" text-anchor="middle">log(ε) (cm<tspan font-size="15.5" dy="-7.5">-1</tspan><tspan dy="7.5">/M)</tspan></text>
<text x="489.5" y="80.7" font-size="27.8" text-anchor="end" fill="#ff48ff" stroke="#ff48ff" style="stroke-width:0.6px">HbO<tspan font-size="18.5" dy="2.5">2</tspan></text>
<text x="489.5" y="113.2" font-size="27.8" text-anchor="end" fill="#1582c8" stroke="#1582c8" style="stroke-width:0.6px">Hb</text>
<text x="489.5" y="360.2" font-size="27.8" text-anchor="end" fill="#ff48ff" stroke="#ff48ff" style="stroke-width:0.6px">HbO<tspan font-size="18.5" dy="2.5">2</tspan></text>
<text x="489.5" y="392.6" font-size="27.8" text-anchor="end" fill="#1582c8" stroke="#1582c8" style="stroke-width:0.6px">Hb</text>
</svg></body></html>
